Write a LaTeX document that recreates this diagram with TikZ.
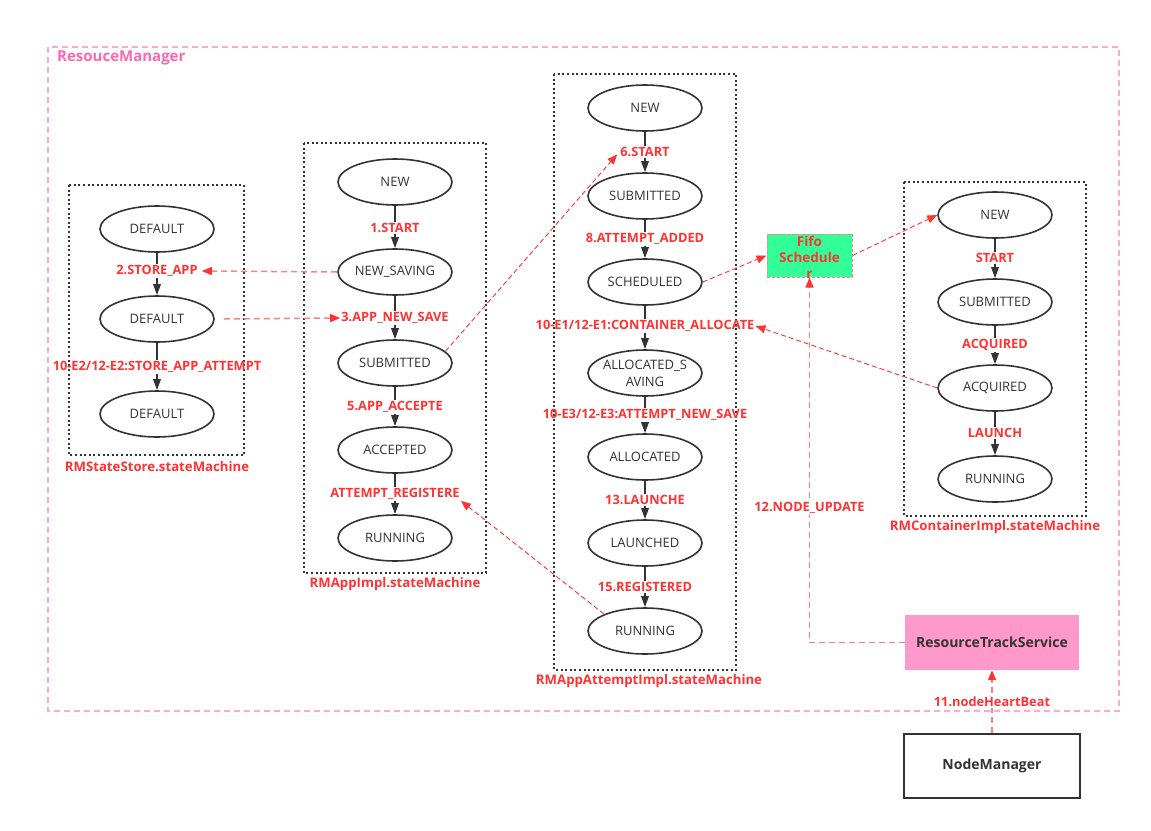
\documentclass[tikz,border=0pt]{standalone}
\usepackage{fontspec}
\setmainfont{Open Sans}
\usetikzlibrary{shapes.geometric,arrows.meta,calc}
\definecolor{evred}{HTML}{FF3333}
\definecolor{salmon}{HTML}{FF8080}
\definecolor{dk}{HTML}{333333}
\definecolor{rmpink}{HTML}{FF66B2}
\definecolor{rmborder}{HTML}{FFA8D4}
\definecolor{fifog}{HTML}{33FF99}
\definecolor{rtspink}{HTML}{FF99CC}
\tikzset{
 stel/.style={ellipse, draw=dk, line width=1.6pt, minimum width=114pt, minimum height=46pt, inner sep=0pt, text=dk, font=\fontsize{13}{17}\selectfont},
 sttx/.style={inner sep=0pt, text=dk, font=\fontsize{13}{17}\selectfont, align=center},
 ev/.style={text=evred, font=\bfseries\fontsize{12.8}{14}\selectfont, inner sep=1pt},
 capt/.style={text=evred, font=\bfseries\fontsize{13.2}{15}\selectfont, inner sep=0pt},
 smbox/.style={draw=dk, line width=1.9pt, dash pattern=on 2pt off 2.6pt},
 trl/.style={draw=dk, line width=1.6pt},
 tra/.style={trl, -{Triangle[width=7.5pt,length=11pt]}},
 sig/.style={draw=evred, line width=0.9pt, dash pattern=on 5pt off 3pt, -{Triangle[width=8pt,length=10pt,color=evred]}},
 sigb/.style={draw=salmon, line width=1.5pt, dash pattern=on 6pt off 4pt, -{Triangle[width=8pt,length=10pt,color=evred]}},
}
\begin{document}
\begin{tikzpicture}[x=1pt,y=-1pt]
\useasboundingbox (0,0) rectangle (1151,830);
\fill[white] (0,0) rectangle (1151,830);
% outer ResourceManager box
\draw[rmborder, line width=1.2pt, dash pattern=on 6pt off 4pt] (48,47) rectangle (1119,711);
\node[anchor=west, text=rmpink, font=\bfseries\fontsize{15}{17}\selectfont, inner sep=0pt] (rmlab) at (57,58) {ResouceManager};

% state machine boxes
\draw[smbox] (69,185) rectangle (244,455);
\draw[smbox] (304,143) rectangle (486,573);
\draw[smbox] (554,74) rectangle (736,670);
\draw[smbox] (904,182) rectangle (1086,516);

% RMStateStore
\node[stel] (d1) at (157,229) {DEFAULT};
\node[stel] (d2) at (157,319) {DEFAULT};
\node[stel] (d3) at (157,414) {DEFAULT};
\node[ev] (lsa) at (157,271) {2.STORE\_APP};
\node[ev] (lsat) at (157,367) {10-E2/12-E2:STORE\_APP\_ATTEMPT};
\draw[trl] (d1) -- (lsa); \draw[tra] (lsa) -- (d2);
\draw[trl] (d2) -- (lsat); \draw[tra] (lsat) -- (d3);
\node[capt] (capss) at (157,467) {RMStateStore.stateMachine};

% RMAppImpl
\node[stel] (anew) at (395,182) {NEW};
\node[stel] (asav) at (395,272) {NEW\_SAVING};
\node[stel] (asub) at (395,363) {SUBMITTED};
\node[stel] (aacc) at (395,450) {ACCEPTED};
\node[stel] (arun) at (395,538) {RUNNING};
\node[ev] (l1) at (395,228) {1.START};
\node[ev] (l3) at (395,318) {3.APP\_NEW\_SAVE};
\node[ev] (l5) at (395,407) {5.APP\_ACCEPTE};
\node[ev] (lreg) at (395,494) {ATTEMPT\_REGISTERE};
\draw[trl] (anew) -- (l1); \draw[tra] (l1) -- (asav);
\draw[trl] (asav) -- (l3); \draw[tra] (l3) -- (asub);
\draw[trl] (asub) -- (l5); \draw[tra] (l5) -- (aacc);
\draw[trl] (aacc) -- (lreg); \draw[tra] (lreg) -- (arun);
\node[capt] (capapp) at (395,584) {RMAppImpl.stateMachine};

% RMAppAttemptImpl
\node[stel] (tnew) at (645,108) {NEW};
\node[stel] (tsub) at (645,196) {SUBMITTED};
\node[stel] (tsch) at (645,282) {SCHEDULED};
\node[stel] (tas) at (645,373) {};
\node[sttx] (tastx) at (645,373) {ALLOCATED\_S\\AVING};
\node[stel] (tall) at (645,457) {ALLOCATED};
\node[stel] (tlau) at (645,543) {LAUNCHED};
\node[stel] (trun) at (645,631) {RUNNING};
\node[ev] (l6) at (645,152) {6.START};
\node[ev] (l8) at (645,239) {8.ATTEMPT\_ADDED};
\node[ev] (l10a) at (645,326) {10-E1/12-E1:CONTAINER\_ALLOCATE};
\node[ev] (l10b) at (645,415) {10-E3/12-E3:ATTEMPT\_NEW\_SAVE};
\node[ev] (l13) at (645,500) {13.LAUNCHE};
\node[ev] (l15) at (645,587) {15.REGISTERED};
\draw[trl] (tnew) -- (l6); \draw[tra] (l6) -- (tsub);
\draw[trl] (tsub) -- (l8); \draw[tra] (l8) -- (tsch);
\draw[trl] (tsch) -- (l10a); \draw[tra] (l10a) -- (tas);
\draw[trl] (tas) -- (l10b); \draw[tra] (l10b) -- (tall);
\draw[trl] (tall) -- (l13); \draw[tra] (l13) -- (tlau);
\draw[trl] (tlau) -- (l15); \draw[tra] (l15) -- (trun);
\node[capt] (capatt) at (649,681) {RMAppAttemptImpl.stateMachine};

% RMContainerImpl
\node[stel] (cnew) at (995,215) {NEW};
\node[stel] (csub) at (995,302) {SUBMITTED};
\node[stel] (cacq) at (995,388) {ACQUIRED};
\node[stel] (crun) at (995,479) {RUNNING};
\node[ev] (cst) at (995,258) {START};
\node[ev] (cacl) at (995,345) {ACQUIRED};
\node[ev] (claun) at (995,433) {LAUNCH};
\draw[trl] (cnew) -- (cst); \draw[tra] (cst) -- (csub);
\draw[trl] (csub) -- (cacl); \draw[tra] (cacl) -- (cacq);
\draw[trl] (cacq) -- (claun); \draw[tra] (claun) -- (crun);
\node[capt] (capcon) at (995,527) {RMContainerImpl.stateMachine};

% Fifo scheduler
\node[rectangle, fill=fifog, draw=salmon, line width=1pt, dash pattern=on 3pt off 2pt, minimum width=85pt, minimum height=43pt, inner sep=0pt] (fifo) at (809.5,255.5) {};
\node[ev, align=center, font=\bfseries\fontsize{13.5}{16}\selectfont, inner sep=0pt] (fifotx) at (809.5,257) {Fifo\\Schedule\\r};

% ResourceTrackService and NodeManager
\node[rectangle, fill=rtspink, minimum width=174pt, minimum height=55pt, inner sep=0pt, text=dk, font=\bfseries\fontsize{14}{16}\selectfont] (rts) at (992,642.5) {ResourceTrackService};
\node[rectangle, draw=dk, fill=white, line width=1.6pt, minimum width=176pt, minimum height=64pt, inner sep=0pt, text=dk, font=\bfseries\fontsize{14}{16}\selectfont] (nm) at (992,766) {NodeManager};

% signal connectors
\draw[sigb] (asav.west) -- ([xshift=3pt]lsa.east);
\draw[sigb, shorten <=9pt] (d2.east) -- (l3.west);
\draw[sig, shorten >=3pt] (asub.13) -- (l6.west);
\draw[sig] (tsch.east) -- (fifo.west);
\draw[sig] (fifo.east) -- (cnew.west);
\draw[sig] (cacq.west) -- (l10a.east);
\draw[sig] (trun.north west) -- (lreg.south east);
\draw[sigb] (rts.west) -| (fifo.south) node[pos=0.685, ev, fill=white] (nu) {12.NODE\_UPDATE};
\draw[sigb] (nm.north) -- (rts.south) node[midway, ev, fill=white] (hb) {11.nodeHeartBeat};
\end{tikzpicture}
\end{document}
